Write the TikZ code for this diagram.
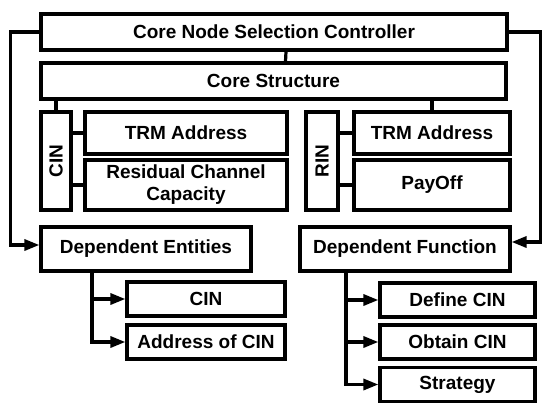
\documentclass[tikz,border=0pt]{standalone}
\usepackage{fontspec}
\setmainfont{Liberation Sans}
\usepackage{tikz}
\usetikzlibrary{arrows.meta}

\begin{document}
\begin{tikzpicture}[x=1pt,y=-1pt,
    box/.style={draw, line width=3.2pt, align=center, inner sep=0pt,
      font=\bfseries\fontsize{19}{22}\selectfont},
    link/.style={line width=3.2pt},
    flow/.style={line width=3.2pt, -{Triangle[length=15pt,width=11pt]}}]
  \useasboundingbox (0,0) rectangle (550,413);
  % top part
  \node[box, minimum width=466, minimum height=36] (cnsc) at (274,32) {Core Node Selection Controller};
  \node[box, minimum width=465, minimum height=36] (cs) at (273.5,81) {Core Structure};
  \node[box, minimum width=30, minimum height=98] (cin) at (56,161) {\rotatebox{90}{CIN}};
  \node[box, minimum width=202, minimum height=42] (trmL) at (186,133) {TRM Address};
  \node[box, minimum width=202, minimum height=50] (rcc) at (186,185) {Residual Channel\\Capacity};
  \node[box, minimum width=32, minimum height=98] (rin) at (322,161) {\rotatebox{90}{RIN}};
  \node[box, minimum width=156, minimum height=42] (trmR) at (432,133) {TRM Address};
  \node[box, minimum width=156, minimum height=50] (payoff) at (432,185) {PayOff};
  % bottom part
  \node[box, minimum width=210, minimum height=44] (de) at (146,249) {Dependent Entities};
  \node[box, minimum width=158, minimum height=34] (cinB) at (206,299) {CIN};
  \node[box, minimum width=158, minimum height=34] (addr) at (206,342) {Address of CIN};
  \node[box, minimum width=210, minimum height=44] (df) at (405,249) {Dependent Function};
  \node[box, minimum width=155, minimum height=34] (define) at (457.5,300) {Define CIN};
  \node[box, minimum width=155, minimum height=34] (obtain) at (457.5,342) {Obtain CIN};
  \node[box, minimum width=155, minimum height=34] (strategy) at (457.5,384.5) {Strategy};

  \draw[link] ([xshift=12pt]cnsc.south) -- ([xshift=12pt]cs.north);
  \draw[link] (cs.south -| cin) -- (cin.north);
  \draw[link] (cs.south -| trmR) -- (trmR.north);
  \draw[link] (cin.east |- trmL) -- (trmL.west);
  \draw[link] (cin.east |- rcc) -- (rcc.west);
  \draw[link] (rin.east |- trmR) -- (trmR.west);
  \draw[link] (rin.east |- payoff) -- (payoff.west);

  \draw[flow] (cnsc.west) -- ++(-29,0) |- ([yshift=4pt]de.west);
  \draw[flow] (cnsc.east) -- ++(32,0) |- ([yshift=7pt]df.east);
  \draw[flow] ([xshift=-54pt]de.south) |- (cinB.west);
  \draw[flow] ([xshift=-54pt]de.south) |- (addr.west);
  \draw[flow] ([xshift=-59pt]df.south) |- (define.west);
  \draw[flow] ([xshift=-59pt]df.south) |- (obtain.west);
  \draw[flow] ([xshift=-59pt]df.south) |- (strategy.west);
\end{tikzpicture}
\end{document}
